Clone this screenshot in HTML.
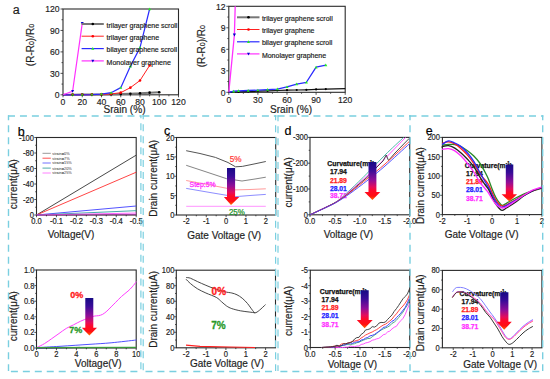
<!DOCTYPE html>
<html><head><meta charset="utf-8"><style>
html,body{margin:0;padding:0;background:#fff;}
#fig{position:relative;width:550px;height:379px;overflow:hidden;background:#fff;}
svg{display:block;}
svg text{font-family:"Liberation Sans", sans-serif;}
svg text.t{stroke:currentColor;}
</style></head><body><div id="fig">
<svg width="550" height="379" viewBox="0 0 550 379" font-family='"Liberation Sans", sans-serif'>
<text x="12.80" y="13.80" font-size="12.5" text-anchor="start" font-weight="normal" fill="#1e1e1e"  stroke="#1e1e1e" stroke-width="0.18">a</text>
<rect x="63.00" y="9.00" width="115.50" height="85.80" fill="none" stroke="#2a2a2a" stroke-width="1.1"/>
<path d="M63.00 94.80 L72.62 94.66 L82.25 94.59 L91.88 94.51 L101.50 94.44 L111.12 94.30 L120.75 94.08 L130.38 93.73 L140.00 93.37 L149.62 92.66 L159.25 92.30" fill="none" stroke="#777" stroke-width="2.0" stroke-linejoin="round" />
<path d="M63.00 94.80 L72.62 94.80 L82.25 94.80 L91.88 94.66 L101.50 94.44 L111.12 93.94 L120.75 92.66 L130.38 87.65 L140.00 80.50 L149.62 65.48" fill="none" stroke="#ff2020" stroke-width="1.0" stroke-linejoin="round" />
<path d="M63.00 94.80 L72.62 94.80 L82.25 94.80 L91.88 94.59 L101.50 94.08 L111.12 92.66 L120.75 87.65 L130.38 66.20 L140.00 47.61 L149.62 9.00" fill="none" stroke="#2a2aff" stroke-width="1.2" stroke-linejoin="round" />
<path d="M63.00 94.80 L72.62 91.22 L82.25 23.30" fill="none" stroke="#ff30ff" stroke-width="1.2" stroke-linejoin="round" />
<circle cx="72.62" cy="94.66" r="1.3" fill="#000"/>
<circle cx="82.25" cy="94.59" r="1.3" fill="#000"/>
<circle cx="91.88" cy="94.51" r="1.3" fill="#000"/>
<circle cx="101.50" cy="94.44" r="1.3" fill="#000"/>
<circle cx="111.12" cy="94.30" r="1.3" fill="#000"/>
<circle cx="120.75" cy="94.08" r="1.3" fill="#000"/>
<circle cx="130.38" cy="93.73" r="1.3" fill="#000"/>
<circle cx="140.00" cy="93.37" r="1.3" fill="#000"/>
<circle cx="149.62" cy="92.66" r="1.3" fill="#000"/>
<circle cx="159.25" cy="92.30" r="1.3" fill="#000"/>
<circle cx="72.62" cy="94.80" r="1.3" fill="#ff0000"/>
<circle cx="82.25" cy="94.80" r="1.3" fill="#ff0000"/>
<circle cx="91.88" cy="94.66" r="1.3" fill="#ff0000"/>
<circle cx="101.50" cy="94.44" r="1.3" fill="#ff0000"/>
<circle cx="111.12" cy="93.94" r="1.3" fill="#ff0000"/>
<circle cx="120.75" cy="92.66" r="1.3" fill="#ff0000"/>
<circle cx="130.38" cy="87.65" r="1.3" fill="#ff0000"/>
<circle cx="140.00" cy="80.50" r="1.3" fill="#ff0000"/>
<circle cx="149.62" cy="65.48" r="1.3" fill="#ff0000"/>
<path d="M72.62 93.30L74.12 96.00L71.12 96.00Z" fill="#22ee22"/>
<path d="M82.25 93.30L83.75 96.00L80.75 96.00Z" fill="#22ee22"/>
<path d="M91.88 93.09L93.38 95.79L90.38 95.79Z" fill="#22ee22"/>
<path d="M101.50 92.58L103.00 95.28L100.00 95.28Z" fill="#22ee22"/>
<path d="M111.12 91.16L112.62 93.86L109.62 93.86Z" fill="#22ee22"/>
<path d="M120.75 86.15L122.25 88.85L119.25 88.85Z" fill="#22ee22"/>
<path d="M130.38 64.70L131.88 67.40L128.88 67.40Z" fill="#22ee22"/>
<path d="M140.00 46.11L141.50 48.81L138.50 48.81Z" fill="#22ee22"/>
<path d="M149.62 7.50L151.12 10.20L148.12 10.20Z" fill="#22ee22"/>
<path d="M72.62 92.72L74.12 90.02L71.12 90.02Z" fill="#0000cc"/>
<path d="M82.25 24.80L83.75 22.10L80.75 22.10Z" fill="#0000cc"/>
<path d="M63.00 94.80v2.5M82.25 94.80v2.5M101.50 94.80v2.5M120.75 94.80v2.5M140.00 94.80v2.5M159.25 94.80v2.5M178.50 94.80v2.5" stroke="#2a2a2a" stroke-width="0.8"/>
<path d="M72.62 94.80v1.5M91.88 94.80v1.5M111.12 94.80v1.5M130.38 94.80v1.5M149.62 94.80v1.5M168.88 94.80v1.5" stroke="#2a2a2a" stroke-width="0.8"/>
<path d="M63.00 94.80h-2.5M63.00 73.35h-2.5M63.00 51.90h-2.5M63.00 30.45h-2.5M63.00 9.00h-2.5" stroke="#2a2a2a" stroke-width="0.8"/>
<path d="M63.00 84.08h-1.5M63.00 62.62h-1.5M63.00 41.17h-1.5M63.00 19.72h-1.5" stroke="#2a2a2a" stroke-width="0.8"/>
<text transform="translate(63.00,105.20) scale(0.9,1)" font-size="9.6" text-anchor="middle" fill="#1e1e1e" stroke="#1e1e1e" stroke-width="0.18">0</text>
<text transform="translate(82.25,105.20) scale(0.9,1)" font-size="9.6" text-anchor="middle" fill="#1e1e1e" stroke="#1e1e1e" stroke-width="0.18">20</text>
<text transform="translate(101.50,105.20) scale(0.9,1)" font-size="9.6" text-anchor="middle" fill="#1e1e1e" stroke="#1e1e1e" stroke-width="0.18">40</text>
<text transform="translate(120.75,105.20) scale(0.9,1)" font-size="9.6" text-anchor="middle" fill="#1e1e1e" stroke="#1e1e1e" stroke-width="0.18">60</text>
<text transform="translate(140.00,105.20) scale(0.9,1)" font-size="9.6" text-anchor="middle" fill="#1e1e1e" stroke="#1e1e1e" stroke-width="0.18">80</text>
<text transform="translate(159.25,105.20) scale(0.9,1)" font-size="9.6" text-anchor="middle" fill="#1e1e1e" stroke="#1e1e1e" stroke-width="0.18">100</text>
<text transform="translate(178.50,105.20) scale(0.9,1)" font-size="9.6" text-anchor="middle" fill="#1e1e1e" stroke="#1e1e1e" stroke-width="0.18">120</text>
<text transform="translate(59.60,98.26) scale(0.9,1)" font-size="9.6" text-anchor="end" fill="#1e1e1e" stroke="#1e1e1e" stroke-width="0.18">0</text>
<text transform="translate(59.60,76.81) scale(0.9,1)" font-size="9.6" text-anchor="end" fill="#1e1e1e" stroke="#1e1e1e" stroke-width="0.18">30</text>
<text transform="translate(59.60,55.36) scale(0.9,1)" font-size="9.6" text-anchor="end" fill="#1e1e1e" stroke="#1e1e1e" stroke-width="0.18">60</text>
<text transform="translate(59.60,33.91) scale(0.9,1)" font-size="9.6" text-anchor="end" fill="#1e1e1e" stroke="#1e1e1e" stroke-width="0.18">90</text>
<text transform="translate(59.60,12.46) scale(0.9,1)" font-size="9.6" text-anchor="end" fill="#1e1e1e" stroke="#1e1e1e" stroke-width="0.18">120</text>
<text x="124.50" y="112.60" font-size="10.1" text-anchor="middle" font-weight="normal" fill="#1e1e1e"  stroke="#1e1e1e" stroke-width="0.18">Srain (%)</text>
<text transform="translate(34.00,45.00) rotate(-90)" x="0" y="0" font-size="10" text-anchor="middle" font-weight="normal" fill="#1e1e1e"  stroke="#1e1e1e" stroke-width="0.18">(R-R<tspan font-size="7">0</tspan>)/R<tspan font-size="7">0</tspan></text>
<path d="M81.6 24.00H103.8" stroke="#777" stroke-width="2.0"/>
<circle cx="92.80" cy="24.00" r="1.3" fill="#000"/>
<text x="106.60" y="27.62" font-size="7.0" text-anchor="start" font-weight="normal" fill="#222"  stroke="#222" stroke-width="0.18">trilayer graphene scroll</text>
<path d="M81.6 36.20H103.8" stroke="#ff2020" stroke-width="1.0"/>
<circle cx="92.80" cy="36.20" r="1.3" fill="#ff0000"/>
<text x="106.60" y="39.82" font-size="7.0" text-anchor="start" font-weight="normal" fill="#222"  stroke="#222" stroke-width="0.18">trilayer graphene</text>
<path d="M81.6 48.60H103.8" stroke="#2a2aff" stroke-width="1.2"/>
<path d="M92.80 47.10L94.30 49.80L91.30 49.80Z" fill="#22ee22"/>
<text x="106.60" y="52.22" font-size="7.0" text-anchor="start" font-weight="normal" fill="#222"  stroke="#222" stroke-width="0.18">bilayer graphene scroll</text>
<path d="M81.6 60.90H103.8" stroke="#ff30ff" stroke-width="1.2"/>
<path d="M92.80 62.40L94.30 59.70L91.30 59.70Z" fill="#0000cc"/>
<text x="106.60" y="64.52" font-size="7.0" text-anchor="start" font-weight="normal" fill="#222"  stroke="#222" stroke-width="0.18">Monolayer graphene</text>
<rect x="228.80" y="6.30" width="116.40" height="86.00" fill="none" stroke="#2a2a2a" stroke-width="1.1"/>
<path d="M228.80 92.30 L238.50 91.94 L248.20 91.58 L257.90 91.22 L267.60 90.87 L277.30 90.51 L287.00 90.15 L296.70 90.01 L306.40 89.79 L316.10 89.43 L325.80 89.08 L345.20 88.72" fill="none" stroke="#111" stroke-width="1.2" stroke-linejoin="round" />
<path d="M228.80 92.30 L233.65 91.22 L238.50 90.87 L248.20 90.51 L257.90 90.15 L267.60 89.58 L277.30 89.08 L287.00 86.92 L296.70 84.06 L306.40 82.27 L316.10 67.22 L325.80 65.07" fill="none" stroke="#2a2aff" stroke-width="1.3" stroke-linejoin="round" />
<path d="M228.80 92.30 L234.40 34.80 L235.20 6.30" fill="none" stroke="#ff30ff" stroke-width="1.3" stroke-linejoin="round" />
<circle cx="238.50" cy="91.94" r="1.1" fill="#000"/>
<circle cx="248.20" cy="91.58" r="1.1" fill="#000"/>
<circle cx="257.90" cy="91.22" r="1.1" fill="#000"/>
<circle cx="267.60" cy="90.87" r="1.1" fill="#000"/>
<circle cx="277.30" cy="90.51" r="1.1" fill="#000"/>
<circle cx="287.00" cy="90.15" r="1.1" fill="#000"/>
<circle cx="296.70" cy="90.01" r="1.1" fill="#000"/>
<circle cx="306.40" cy="89.79" r="1.1" fill="#000"/>
<circle cx="316.10" cy="89.43" r="1.1" fill="#000"/>
<circle cx="325.80" cy="89.08" r="1.1" fill="#000"/>
<path d="M233.65 89.72L235.15 92.42L232.15 92.42Z" fill="#22ee22"/>
<path d="M238.50 89.37L240.00 92.07L237.00 92.07Z" fill="#22ee22"/>
<path d="M248.20 89.01L249.70 91.71L246.70 91.71Z" fill="#22ee22"/>
<path d="M257.90 88.65L259.40 91.35L256.40 91.35Z" fill="#22ee22"/>
<path d="M267.60 88.08L269.10 90.78L266.10 90.78Z" fill="#22ee22"/>
<path d="M277.30 87.58L278.80 90.28L275.80 90.28Z" fill="#22ee22"/>
<path d="M287.00 85.42L288.50 88.12L285.50 88.12Z" fill="#22ee22"/>
<path d="M296.70 82.56L298.20 85.26L295.20 85.26Z" fill="#22ee22"/>
<path d="M306.40 80.77L307.90 83.47L304.90 83.47Z" fill="#22ee22"/>
<path d="M316.10 65.72L317.60 68.42L314.60 68.42Z" fill="#22ee22"/>
<path d="M325.80 63.57L327.30 66.27L324.30 66.27Z" fill="#22ee22"/>
<path d="M234.40 36.40L236.00 33.52L232.80 33.52Z" fill="#0000cc"/>
<path d="M228.80 92.30v2.5M257.90 92.30v2.5M287.00 92.30v2.5M316.10 92.30v2.5M345.20 92.30v2.5" stroke="#2a2a2a" stroke-width="0.8"/>
<path d="M243.35 92.30v1.5M272.45 92.30v1.5M301.55 92.30v1.5M330.65 92.30v1.5" stroke="#2a2a2a" stroke-width="0.8"/>
<path d="M228.80 92.30h-2.5M228.80 70.80h-2.5M228.80 49.30h-2.5M228.80 27.80h-2.5M228.80 6.30h-2.5" stroke="#2a2a2a" stroke-width="0.8"/>
<path d="M228.80 81.55h-1.5M228.80 60.05h-1.5M228.80 38.55h-1.5M228.80 17.05h-1.5" stroke="#2a2a2a" stroke-width="0.8"/>
<text transform="translate(228.80,102.90) scale(0.9,1)" font-size="9.6" text-anchor="middle" fill="#1e1e1e" stroke="#1e1e1e" stroke-width="0.18">0</text>
<text transform="translate(257.90,102.90) scale(0.9,1)" font-size="9.6" text-anchor="middle" fill="#1e1e1e" stroke="#1e1e1e" stroke-width="0.18">30</text>
<text transform="translate(287.00,102.90) scale(0.9,1)" font-size="9.6" text-anchor="middle" fill="#1e1e1e" stroke="#1e1e1e" stroke-width="0.18">60</text>
<text transform="translate(316.10,102.90) scale(0.9,1)" font-size="9.6" text-anchor="middle" fill="#1e1e1e" stroke="#1e1e1e" stroke-width="0.18">90</text>
<text transform="translate(345.20,102.90) scale(0.9,1)" font-size="9.6" text-anchor="middle" fill="#1e1e1e" stroke="#1e1e1e" stroke-width="0.18">120</text>
<text transform="translate(225.60,95.76) scale(0.9,1)" font-size="9.6" text-anchor="end" fill="#1e1e1e" stroke="#1e1e1e" stroke-width="0.18">0</text>
<text transform="translate(225.60,74.26) scale(0.9,1)" font-size="9.6" text-anchor="end" fill="#1e1e1e" stroke="#1e1e1e" stroke-width="0.18">3</text>
<text transform="translate(225.60,52.76) scale(0.9,1)" font-size="9.6" text-anchor="end" fill="#1e1e1e" stroke="#1e1e1e" stroke-width="0.18">6</text>
<text transform="translate(225.60,31.26) scale(0.9,1)" font-size="9.6" text-anchor="end" fill="#1e1e1e" stroke="#1e1e1e" stroke-width="0.18">9</text>
<text transform="translate(225.60,9.76) scale(0.9,1)" font-size="9.6" text-anchor="end" fill="#1e1e1e" stroke="#1e1e1e" stroke-width="0.18">12</text>
<text x="291.00" y="112.60" font-size="10.1" text-anchor="middle" font-weight="normal" fill="#1e1e1e"  stroke="#1e1e1e" stroke-width="0.18">Srain (%)</text>
<text transform="translate(204.50,46.20) rotate(-90)" x="0" y="0" font-size="10" text-anchor="middle" font-weight="normal" fill="#1e1e1e"  stroke="#1e1e1e" stroke-width="0.18">(R-R<tspan font-size="7">0</tspan>)/R<tspan font-size="7">0</tspan></text>
<path d="M237 17.30H259.5" stroke="#777" stroke-width="2.0"/>
<circle cx="248.50" cy="17.30" r="1.3" fill="#000"/>
<text x="261.90" y="20.92" font-size="7.0" text-anchor="start" font-weight="normal" fill="#222"  stroke="#222" stroke-width="0.18">trilayer graphene scroll</text>
<path d="M237 29.50H259.5" stroke="#ff2020" stroke-width="1.0"/>
<circle cx="248.50" cy="29.50" r="1.3" fill="#ff0000"/>
<text x="261.90" y="33.12" font-size="7.0" text-anchor="start" font-weight="normal" fill="#222"  stroke="#222" stroke-width="0.18">trilayer graphene</text>
<path d="M237 41.80H259.5" stroke="#2a2aff" stroke-width="1.2"/>
<path d="M248.50 40.30L250.00 43.00L247.00 43.00Z" fill="#22ee22"/>
<text x="261.90" y="45.42" font-size="7.0" text-anchor="start" font-weight="normal" fill="#222"  stroke="#222" stroke-width="0.18">bilayer graphene scroll</text>
<path d="M237 53.90H259.5" stroke="#ff30ff" stroke-width="1.2"/>
<path d="M248.50 55.40L250.00 52.70L247.00 52.70Z" fill="#0000cc"/>
<text x="261.90" y="57.52" font-size="7.0" text-anchor="start" font-weight="normal" fill="#222"  stroke="#222" stroke-width="0.18">Monolayer graphene</text>
<text x="17.70" y="136.00" font-size="12.5" text-anchor="start" font-weight="normal" fill="#000"  stroke="#000" stroke-width="0.18">b</text>
<rect x="36.50" y="137.50" width="99.70" height="77.50" fill="none" stroke="#2a2a2a" stroke-width="1.1"/>
<path d="M36.50 215.00 L136.20 155.17" fill="none" stroke="#333" stroke-width="0.9" stroke-linejoin="round" />
<path d="M36.50 215.00 L136.20 172.22" fill="none" stroke="#ff3030" stroke-width="0.9" stroke-linejoin="round" />
<path d="M36.50 215.00 L136.20 206.01" fill="none" stroke="#4040ff" stroke-width="0.9" stroke-linejoin="round" />
<path d="M36.50 215.00 L136.20 210.66" fill="none" stroke="#30a0a0" stroke-width="0.9" stroke-linejoin="round" />
<path d="M36.50 215.00 L136.20 213.06" fill="none" stroke="#ff50ff" stroke-width="0.9" stroke-linejoin="round" />
<path d="M36.50 215.00 L136.20 214.61" fill="none" stroke="#993399" stroke-width="0.9" stroke-linejoin="round" />
<path d="M36.50 215.00v2.2M56.44 215.00v2.2M76.38 215.00v2.2M96.32 215.00v2.2M116.26 215.00v2.2M136.20 215.00v2.2" stroke="#2a2a2a" stroke-width="0.8"/>
<path d="M46.47 215.00v1.3M66.41 215.00v1.3M86.35 215.00v1.3M106.29 215.00v1.3M126.23 215.00v1.3" stroke="#2a2a2a" stroke-width="0.8"/>
<path d="M36.50 215.00h-2.2M36.50 199.50h-2.2M36.50 184.00h-2.2M36.50 168.50h-2.2M36.50 153.00h-2.2M36.50 137.50h-2.2" stroke="#2a2a2a" stroke-width="0.8"/>
<path d="M36.50 207.25h-1.3M36.50 191.75h-1.3M36.50 176.25h-1.3M36.50 160.75h-1.3M36.50 145.25h-1.3" stroke="#2a2a2a" stroke-width="0.8"/>
<text transform="translate(36.50,224.20) scale(0.9,1)" font-size="8.4" text-anchor="middle" fill="#1e1e1e" stroke="#1e1e1e" stroke-width="0.18">0.0</text>
<text transform="translate(56.44,224.20) scale(0.9,1)" font-size="8.4" text-anchor="middle" fill="#1e1e1e" stroke="#1e1e1e" stroke-width="0.18">-0.1</text>
<text transform="translate(76.38,224.20) scale(0.9,1)" font-size="8.4" text-anchor="middle" fill="#1e1e1e" stroke="#1e1e1e" stroke-width="0.18">-0.2</text>
<text transform="translate(96.32,224.20) scale(0.9,1)" font-size="8.4" text-anchor="middle" fill="#1e1e1e" stroke="#1e1e1e" stroke-width="0.18">-0.3</text>
<text transform="translate(116.26,224.20) scale(0.9,1)" font-size="8.4" text-anchor="middle" fill="#1e1e1e" stroke="#1e1e1e" stroke-width="0.18">-0.4</text>
<text transform="translate(136.20,224.20) scale(0.9,1)" font-size="8.4" text-anchor="middle" fill="#1e1e1e" stroke="#1e1e1e" stroke-width="0.18">-0.5</text>
<text transform="translate(34.00,218.02) scale(0.9,1)" font-size="8.4" text-anchor="end" fill="#1e1e1e" stroke="#1e1e1e" stroke-width="0.18">0</text>
<text transform="translate(34.00,202.52) scale(0.9,1)" font-size="8.4" text-anchor="end" fill="#1e1e1e" stroke="#1e1e1e" stroke-width="0.18">-20</text>
<text transform="translate(34.00,187.02) scale(0.9,1)" font-size="8.4" text-anchor="end" fill="#1e1e1e" stroke="#1e1e1e" stroke-width="0.18">-40</text>
<text transform="translate(34.00,171.52) scale(0.9,1)" font-size="8.4" text-anchor="end" fill="#1e1e1e" stroke="#1e1e1e" stroke-width="0.18">-60</text>
<text transform="translate(34.00,156.02) scale(0.9,1)" font-size="8.4" text-anchor="end" fill="#1e1e1e" stroke="#1e1e1e" stroke-width="0.18">-80</text>
<text transform="translate(34.00,140.52) scale(0.9,1)" font-size="8.4" text-anchor="end" fill="#1e1e1e" stroke="#1e1e1e" stroke-width="0.18">-100</text>
<text x="71.00" y="238.00" font-size="10.0" text-anchor="middle" font-weight="normal" fill="#1e1e1e"  stroke="#1e1e1e" stroke-width="0.18">Voltage(V)</text>
<text transform="translate(16.60,184.20) rotate(-90)" x="0" y="0" font-size="10.0" text-anchor="middle" font-weight="normal" fill="#1e1e1e"  stroke="#1e1e1e" stroke-width="0.18">current(μA)</text>
<path d="M42.5 153.3H50.8" stroke="#999" stroke-width="1"/>
<text x="52.20" y="154.70" font-size="3.9" text-anchor="start" font-weight="normal" fill="#555" stroke="#555" stroke-width="0.05">strain=0%</text>
<path d="M42.5 158.2H50.8" stroke="#ff5050" stroke-width="1"/>
<text x="52.20" y="159.60" font-size="3.9" text-anchor="start" font-weight="normal" fill="#555" stroke="#555" stroke-width="0.05">strain=7%</text>
<path d="M42.5 163H50.8" stroke="#7070ff" stroke-width="1"/>
<text x="52.20" y="164.40" font-size="3.9" text-anchor="start" font-weight="normal" fill="#555" stroke="#555" stroke-width="0.05">strain=15%</text>
<path d="M42.5 168.1H50.8" stroke="#50aaaa" stroke-width="1"/>
<text x="52.20" y="169.50" font-size="3.9" text-anchor="start" font-weight="normal" fill="#555" stroke="#555" stroke-width="0.05">strain=20%</text>
<path d="M42.5 173H50.8" stroke="#ff80ff" stroke-width="1"/>
<text x="52.20" y="174.40" font-size="3.9" text-anchor="start" font-weight="normal" fill="#555" stroke="#555" stroke-width="0.05">strain=25%</text>
<rect x="36.50" y="270.00" width="99.70" height="78.00" fill="none" stroke="#2a2a2a" stroke-width="1.1"/>
<path d="M36.80 347.60C38.08 346.93 42.00 345.10 44.50 343.60C47.00 342.10 49.38 340.28 51.80 338.60C54.22 336.92 56.58 335.20 59.00 333.50C61.42 331.80 63.87 329.85 66.30 328.40C68.73 326.95 71.18 326.02 73.60 324.80C76.02 323.58 78.38 322.20 80.80 321.10C83.22 320.00 85.87 319.03 88.10 318.20C90.33 317.37 92.48 316.52 94.20 316.10C95.92 315.68 96.98 316.00 98.40 315.70C99.82 315.40 101.28 315.07 102.70 314.30C104.12 313.53 105.50 312.33 106.90 311.10C108.30 309.87 109.70 308.30 111.10 306.90C112.50 305.50 113.55 304.45 115.30 302.70C117.05 300.95 119.48 298.33 121.60 296.40C123.72 294.47 126.23 292.68 128.00 291.10C129.77 289.52 130.80 288.48 132.20 286.90C133.60 285.32 135.70 282.48 136.40 281.60" fill="none" stroke="#ff40ff" stroke-width="1.0" stroke-linejoin="round" />
<path d="M36.80 347.60C40.67 347.38 51.13 346.85 60.00 346.30C68.87 345.75 81.48 344.88 90.00 344.30C98.52 343.72 103.37 343.52 111.10 342.80C118.83 342.08 132.18 340.47 136.40 340.00" fill="none" stroke="#5050ff" stroke-width="1.0" stroke-linejoin="round" />
<path d="M36.50 348.20 L50.00 348.00 L80.00 347.40" fill="none" stroke="#303090" stroke-width="1.0" stroke-linejoin="round" />
<path d="M36.50 347.60 L136.20 347.40" fill="none" stroke="#3a9a3a" stroke-width="1.2" stroke-linejoin="round" />
<path d="M36.50 348.00v2.2M56.44 348.00v2.2M76.38 348.00v2.2M96.32 348.00v2.2M116.26 348.00v2.2M136.20 348.00v2.2" stroke="#2a2a2a" stroke-width="0.8"/>
<path d="M46.47 348.00v1.3M66.41 348.00v1.3M86.35 348.00v1.3M106.29 348.00v1.3M126.23 348.00v1.3" stroke="#2a2a2a" stroke-width="0.8"/>
<path d="M36.50 348.00h-2.2M36.50 332.40h-2.2M36.50 316.80h-2.2M36.50 301.20h-2.2M36.50 285.60h-2.2M36.50 270.00h-2.2" stroke="#2a2a2a" stroke-width="0.8"/>
<path d="M36.50 340.20h-1.3M36.50 324.60h-1.3M36.50 309.00h-1.3M36.50 293.40h-1.3M36.50 277.80h-1.3" stroke="#2a2a2a" stroke-width="0.8"/>
<text transform="translate(36.50,356.50) scale(0.9,1)" font-size="8.4" text-anchor="middle" fill="#1e1e1e" stroke="#1e1e1e" stroke-width="0.18">0</text>
<text transform="translate(56.44,356.50) scale(0.9,1)" font-size="8.4" text-anchor="middle" fill="#1e1e1e" stroke="#1e1e1e" stroke-width="0.18">2</text>
<text transform="translate(76.38,356.50) scale(0.9,1)" font-size="8.4" text-anchor="middle" fill="#1e1e1e" stroke="#1e1e1e" stroke-width="0.18">4</text>
<text transform="translate(96.32,356.50) scale(0.9,1)" font-size="8.4" text-anchor="middle" fill="#1e1e1e" stroke="#1e1e1e" stroke-width="0.18">6</text>
<text transform="translate(116.26,356.50) scale(0.9,1)" font-size="8.4" text-anchor="middle" fill="#1e1e1e" stroke="#1e1e1e" stroke-width="0.18">8</text>
<text transform="translate(136.20,356.50) scale(0.9,1)" font-size="8.4" text-anchor="middle" fill="#1e1e1e" stroke="#1e1e1e" stroke-width="0.18">10</text>
<text transform="translate(34.40,351.02) scale(0.9,1)" font-size="8.4" text-anchor="end" fill="#1e1e1e" stroke="#1e1e1e" stroke-width="0.18">0.0</text>
<text transform="translate(34.40,335.42) scale(0.9,1)" font-size="8.4" text-anchor="end" fill="#1e1e1e" stroke="#1e1e1e" stroke-width="0.18">0.2</text>
<text transform="translate(34.40,319.82) scale(0.9,1)" font-size="8.4" text-anchor="end" fill="#1e1e1e" stroke="#1e1e1e" stroke-width="0.18">0.4</text>
<text transform="translate(34.40,304.22) scale(0.9,1)" font-size="8.4" text-anchor="end" fill="#1e1e1e" stroke="#1e1e1e" stroke-width="0.18">0.6</text>
<text transform="translate(34.40,288.62) scale(0.9,1)" font-size="8.4" text-anchor="end" fill="#1e1e1e" stroke="#1e1e1e" stroke-width="0.18">0.8</text>
<text transform="translate(34.40,273.02) scale(0.9,1)" font-size="8.4" text-anchor="end" fill="#1e1e1e" stroke="#1e1e1e" stroke-width="0.18">1.0</text>
<text x="98.20" y="366.50" font-size="10.0" text-anchor="middle" font-weight="normal" fill="#1e1e1e"  stroke="#1e1e1e" stroke-width="0.18">Voltage(V)</text>
<text transform="translate(16.60,316.20) rotate(-90)" x="0" y="0" font-size="10.0" text-anchor="middle" font-weight="normal" fill="#1e1e1e"  stroke="#1e1e1e" stroke-width="0.18">current(μA)</text>
<text x="70.20" y="298.40" font-size="9" text-anchor="start" font-weight="bold" fill="#ff2020" stroke="#ff2020" stroke-width="0.3">0%</text>
<text x="69.20" y="332.60" font-size="9" text-anchor="start" font-weight="bold" fill="#2a9a2a" stroke="#2a9a2a" stroke-width="0.3">7%</text>
<defs><linearGradient id="ag" x1="0" y1="0" x2="0" y2="1">
<stop offset="0" stop-color="#160a84"/><stop offset="0.22" stop-color="#380c98"/><stop offset="0.48" stop-color="#900e98"/><stop offset="0.66" stop-color="#e40c5c"/><stop offset="0.76" stop-color="#ff0828"/><stop offset="0.9" stop-color="#ff1010"/><stop offset="1" stop-color="#ff6800"/></linearGradient></defs>
<path d="M85.3 297.9H93.3V327.7H97.0L89.4 335.4L81.8 327.7H85.3Z" fill="url(#ag)"/>
<text x="164.00" y="134.50" font-size="12.5" text-anchor="start" font-weight="normal" fill="#000"  stroke="#000" stroke-width="0.18">c</text>
<rect x="176.50" y="137.50" width="99.20" height="77.50" fill="none" stroke="#2a2a2a" stroke-width="1.1"/>
<path d="M186.20 150.70 L200.00 153.50 L215.40 157.40 L228.00 162.50 L235.50 166.80 L242.30 166.40 L254.00 164.00 L265.80 161.50" fill="none" stroke="#555" stroke-width="1.0" stroke-linejoin="round" />
<path d="M186.20 165.30 L205.00 171.50 L226.60 178.70 L242.00 181.00 L255.00 179.00 L265.80 177.20" fill="none" stroke="#777" stroke-width="0.9" stroke-linejoin="round" />
<path d="M186.20 180.50 L210.00 185.00 L235.00 189.90 L250.00 189.50 L265.80 188.80" fill="none" stroke="#ff9090" stroke-width="0.9" stroke-linejoin="round" />
<path d="M186.20 188.40 L210.00 192.50 L235.00 196.70 L250.00 195.50 L265.80 194.40" fill="none" stroke="#8080ff" stroke-width="0.9" stroke-linejoin="round" />
<path d="M186.20 206.30 L265.80 206.30" fill="none" stroke="#ff88ff" stroke-width="0.9" stroke-linejoin="round" />
<path d="M186.42 215.00v2.2M206.26 215.00v2.2M226.10 215.00v2.2M245.94 215.00v2.2M265.78 215.00v2.2" stroke="#2a2a2a" stroke-width="0.8"/>
<path d="M196.34 215.00v1.3M216.18 215.00v1.3M236.02 215.00v1.3M255.86 215.00v1.3" stroke="#2a2a2a" stroke-width="0.8"/>
<path d="M176.50 215.00h-2.2M176.50 195.62h-2.2M176.50 176.25h-2.2M176.50 156.88h-2.2M176.50 137.50h-2.2" stroke="#2a2a2a" stroke-width="0.8"/>
<path d="M176.50 205.31h-1.3M176.50 185.94h-1.3M176.50 166.56h-1.3M176.50 147.19h-1.3" stroke="#2a2a2a" stroke-width="0.8"/>
<text transform="translate(186.42,223.80) scale(0.9,1)" font-size="8.4" text-anchor="middle" fill="#1e1e1e" stroke="#1e1e1e" stroke-width="0.18">-2</text>
<text transform="translate(206.26,223.80) scale(0.9,1)" font-size="8.4" text-anchor="middle" fill="#1e1e1e" stroke="#1e1e1e" stroke-width="0.18">-1</text>
<text transform="translate(226.10,223.80) scale(0.9,1)" font-size="8.4" text-anchor="middle" fill="#1e1e1e" stroke="#1e1e1e" stroke-width="0.18">0</text>
<text transform="translate(245.94,223.80) scale(0.9,1)" font-size="8.4" text-anchor="middle" fill="#1e1e1e" stroke="#1e1e1e" stroke-width="0.18">1</text>
<text transform="translate(265.78,223.80) scale(0.9,1)" font-size="8.4" text-anchor="middle" fill="#1e1e1e" stroke="#1e1e1e" stroke-width="0.18">2</text>
<text transform="translate(174.50,218.02) scale(0.9,1)" font-size="8.4" text-anchor="end" fill="#1e1e1e" stroke="#1e1e1e" stroke-width="0.18">0</text>
<text transform="translate(174.50,198.65) scale(0.9,1)" font-size="8.4" text-anchor="end" fill="#1e1e1e" stroke="#1e1e1e" stroke-width="0.18">5</text>
<text transform="translate(174.50,179.27) scale(0.9,1)" font-size="8.4" text-anchor="end" fill="#1e1e1e" stroke="#1e1e1e" stroke-width="0.18">10</text>
<text transform="translate(174.50,159.90) scale(0.9,1)" font-size="8.4" text-anchor="end" fill="#1e1e1e" stroke="#1e1e1e" stroke-width="0.18">15</text>
<text transform="translate(174.50,140.52) scale(0.9,1)" font-size="8.4" text-anchor="end" fill="#1e1e1e" stroke="#1e1e1e" stroke-width="0.18">20</text>
<text x="224.20" y="238.70" font-size="10.0" text-anchor="middle" font-weight="normal" fill="#1e1e1e"  stroke="#1e1e1e" stroke-width="0.18">Gate Voltage (V)</text>
<text transform="translate(156.70,178.30) rotate(-90)" x="0" y="0" font-size="10.0" text-anchor="middle" font-weight="normal" fill="#1e1e1e"  stroke="#1e1e1e" stroke-width="0.18">Drain current(μA)</text>
<text x="229.80" y="161.60" font-size="8.2" text-anchor="start" font-weight="normal" fill="#ff3838" stroke="#ff3838" stroke-width="0.2">5%</text>
<text transform="translate(189.60,186.80) scale(0.92,1)" font-size="7.5" text-anchor="start" font-weight="normal" fill="#ff30ff" stroke="#ff30ff" stroke-width="0.3">Step:5%</text>
<text transform="translate(228.90,215.00) scale(0.88,1)" font-size="9.0" text-anchor="start" font-weight="normal" fill="#22922a" stroke="#22922a" stroke-width="0.25">25%</text>
<path d="M227.0 168.0H235.1V197.1H239.3L231.0 205.0L223.9 197.1H227.0Z" fill="url(#ag)"/>
<rect x="176.30" y="270.20" width="99.20" height="77.60" fill="none" stroke="#2a2a2a" stroke-width="1.1"/>
<path d="M186.00 277.50C186.73 277.62 188.52 277.53 190.40 278.20C192.28 278.87 194.72 280.32 197.30 281.50C199.88 282.68 203.03 284.10 205.90 285.30C208.77 286.50 211.33 287.62 214.50 288.70C217.67 289.78 222.02 291.08 224.90 291.80C227.78 292.52 229.78 292.50 231.80 293.00C233.82 293.50 235.27 293.93 237.00 294.80C238.73 295.67 240.47 296.77 242.20 298.20C243.93 299.63 245.68 301.38 247.40 303.40C249.12 305.42 251.22 308.73 252.50 310.30C253.78 311.87 253.95 312.80 255.10 312.80C256.25 312.80 257.67 311.67 259.40 310.30C261.13 308.93 264.48 305.55 265.50 304.60" fill="none" stroke="#333" stroke-width="0.9" stroke-linejoin="round" />
<path d="M186.00 279.20C186.73 279.92 188.52 281.92 190.40 283.50C192.28 285.08 194.72 287.12 197.30 288.70C199.88 290.28 202.73 291.55 205.90 293.00C209.07 294.45 213.70 295.95 216.30 297.40C218.90 298.85 219.78 300.27 221.50 301.70C223.22 303.13 224.88 304.85 226.60 306.00C228.32 307.15 229.50 307.80 231.80 308.60C234.10 309.40 237.52 310.23 240.40 310.80C243.28 311.37 246.65 311.67 249.10 312.00C251.55 312.33 254.10 312.67 255.10 312.80" fill="none" stroke="#333" stroke-width="0.9" stroke-linejoin="round" />
<path d="M186.00 345.20 L200.00 346.30 L230.00 347.00 L255.00 347.50" fill="none" stroke="#ff2020" stroke-width="1.2" stroke-linejoin="round" />
<path d="M186.22 347.80v2.2M206.06 347.80v2.2M225.90 347.80v2.2M245.74 347.80v2.2M265.58 347.80v2.2" stroke="#2a2a2a" stroke-width="0.8"/>
<path d="M196.14 347.80v1.3M215.98 347.80v1.3M235.82 347.80v1.3M255.66 347.80v1.3" stroke="#2a2a2a" stroke-width="0.8"/>
<path d="M176.30 347.80h-2.2M176.30 332.28h-2.2M176.30 316.76h-2.2M176.30 301.24h-2.2M176.30 285.72h-2.2M176.30 270.20h-2.2" stroke="#2a2a2a" stroke-width="0.8"/>
<path d="M176.30 340.04h-1.3M176.30 324.52h-1.3M176.30 309.00h-1.3M176.30 293.48h-1.3M176.30 277.96h-1.3" stroke="#2a2a2a" stroke-width="0.8"/>
<text transform="translate(186.22,356.50) scale(0.9,1)" font-size="8.4" text-anchor="middle" fill="#1e1e1e" stroke="#1e1e1e" stroke-width="0.18">-2</text>
<text transform="translate(206.06,356.50) scale(0.9,1)" font-size="8.4" text-anchor="middle" fill="#1e1e1e" stroke="#1e1e1e" stroke-width="0.18">-1</text>
<text transform="translate(225.90,356.50) scale(0.9,1)" font-size="8.4" text-anchor="middle" fill="#1e1e1e" stroke="#1e1e1e" stroke-width="0.18">0</text>
<text transform="translate(245.74,356.50) scale(0.9,1)" font-size="8.4" text-anchor="middle" fill="#1e1e1e" stroke="#1e1e1e" stroke-width="0.18">1</text>
<text transform="translate(265.58,356.50) scale(0.9,1)" font-size="8.4" text-anchor="middle" fill="#1e1e1e" stroke="#1e1e1e" stroke-width="0.18">2</text>
<text transform="translate(174.40,350.82) scale(0.9,1)" font-size="8.4" text-anchor="end" fill="#1e1e1e" stroke="#1e1e1e" stroke-width="0.18">0</text>
<text transform="translate(174.40,335.30) scale(0.9,1)" font-size="8.4" text-anchor="end" fill="#1e1e1e" stroke="#1e1e1e" stroke-width="0.18">20</text>
<text transform="translate(174.40,319.78) scale(0.9,1)" font-size="8.4" text-anchor="end" fill="#1e1e1e" stroke="#1e1e1e" stroke-width="0.18">40</text>
<text transform="translate(174.40,304.26) scale(0.9,1)" font-size="8.4" text-anchor="end" fill="#1e1e1e" stroke="#1e1e1e" stroke-width="0.18">60</text>
<text transform="translate(174.40,288.74) scale(0.9,1)" font-size="8.4" text-anchor="end" fill="#1e1e1e" stroke="#1e1e1e" stroke-width="0.18">80</text>
<text transform="translate(174.40,273.22) scale(0.9,1)" font-size="8.4" text-anchor="end" fill="#1e1e1e" stroke="#1e1e1e" stroke-width="0.18">100</text>
<text x="227.00" y="367.40" font-size="10.0" text-anchor="middle" font-weight="normal" fill="#1e1e1e"  stroke="#1e1e1e" stroke-width="0.18">Gate Voltage (V)</text>
<text transform="translate(156.50,309.40) rotate(-90)" x="0" y="0" font-size="10.0" text-anchor="middle" font-weight="normal" fill="#1e1e1e"  stroke="#1e1e1e" stroke-width="0.18">Drain current(μA)</text>
<text x="211.60" y="295.20" font-size="10" text-anchor="start" font-weight="bold" fill="#ff2020" stroke="#ff2020" stroke-width="0.3">0%</text>
<text x="211.20" y="329.40" font-size="10" text-anchor="start" font-weight="bold" fill="#2a9a2a" stroke="#2a9a2a" stroke-width="0.3">7%</text>
<text x="284.40" y="135.20" font-size="12.5" text-anchor="start" font-weight="normal" fill="#000"  stroke="#000" stroke-width="0.18">d</text>
<rect x="310.00" y="137.40" width="99.70" height="77.40" fill="none" stroke="#2a2a2a" stroke-width="1.1"/>
<text x="327.30" y="166.00" font-size="6.9" text-anchor="start" font-weight="bold" fill="#111" stroke="#111" stroke-width="0.25">Curvature(m<tspan font-size="4.5" dy="-2.5">-1</tspan><tspan dy="2.5">)</tspan></text>
<text x="329.90" y="174.10" font-size="6.8" text-anchor="start" font-weight="bold" fill="#111" stroke="#111" stroke-width="0.25">17.94</text>
<text x="329.90" y="182.70" font-size="6.8" text-anchor="start" font-weight="bold" fill="#ff2020" stroke="#ff2020" stroke-width="0.25">21.89</text>
<text x="329.90" y="190.60" font-size="6.8" text-anchor="start" font-weight="bold" fill="#2020ff" stroke="#2020ff" stroke-width="0.25">28.01</text>
<text x="329.90" y="197.90" font-size="6.8" text-anchor="start" font-weight="bold" fill="#ff30ff" stroke="#ff30ff" stroke-width="0.25">38.71</text>
<path d="M310.00 214.80C312.50 213.60 320.55 209.82 325.00 207.60C329.45 205.38 332.53 204.43 336.70 201.50C340.87 198.57 344.78 194.83 350.00 190.00C355.22 185.17 362.17 178.33 368.00 172.50C373.83 166.67 379.05 160.85 385.00 155.00C390.95 149.15 400.58 140.33 403.70 137.40" fill="none" stroke="#40b0a0" stroke-width="0.9" stroke-linejoin="round" />
<path d="M310.00 214.80C312.50 213.60 320.55 209.80 325.00 207.60C329.45 205.40 332.53 204.37 336.70 201.60C340.87 198.83 344.78 195.43 350.00 191.00C355.22 186.57 362.17 180.42 368.00 175.00C373.83 169.58 378.73 164.77 385.00 158.50C391.27 152.23 402.17 140.92 405.60 137.40" fill="none" stroke="#ff40ff" stroke-width="0.9" stroke-linejoin="round" />
<path d="M310.00 214.80 L325.00 207.80 L336.70 201.80 L344.00 196.80 L350.00 192.00 L358.00 185.00 L368.00 176.50 L377.00 167.00 L383.00 161.00 L386.20 155.00 L388.50 160.50 L395.00 153.00 L409.30 138.30" fill="none" stroke="#333" stroke-width="0.9" stroke-linejoin="round" />
<path d="M310.00 214.80C312.50 213.65 320.55 210.03 325.00 207.90C329.45 205.77 332.53 204.57 336.70 202.00C340.87 199.43 344.78 196.50 350.00 192.50C355.22 188.50 362.17 182.75 368.00 178.00C373.83 173.25 378.12 170.08 385.00 164.00C391.88 157.92 405.25 145.25 409.30 141.50" fill="none" stroke="#ff3030" stroke-width="0.9" stroke-linejoin="round" />
<path d="M310.00 214.80C312.50 213.67 320.55 210.10 325.00 208.00C329.45 205.90 332.53 204.62 336.70 202.20C340.87 199.78 344.78 197.20 350.00 193.50C355.22 189.80 362.17 184.58 368.00 180.00C373.83 175.42 378.12 172.02 385.00 166.00C391.88 159.98 405.25 147.58 409.30 143.90" fill="none" stroke="#4040ff" stroke-width="0.9" stroke-linejoin="round" />
<path d="M310.00 214.80v2.2M334.93 214.80v2.2M359.85 214.80v2.2M384.77 214.80v2.2M409.70 214.80v2.2" stroke="#2a2a2a" stroke-width="0.8"/>
<path d="M322.46 214.80v1.3M347.39 214.80v1.3M372.31 214.80v1.3M397.24 214.80v1.3" stroke="#2a2a2a" stroke-width="0.8"/>
<path d="M310.00 214.80h-2.2M310.00 189.00h-2.2M310.00 163.20h-2.2M310.00 137.40h-2.2" stroke="#2a2a2a" stroke-width="0.8"/>
<path d="M310.00 201.90h-1.3M310.00 176.10h-1.3M310.00 150.30h-1.3" stroke="#2a2a2a" stroke-width="0.8"/>
<text transform="translate(310.00,224.20) scale(0.9,1)" font-size="8.4" text-anchor="middle" fill="#1e1e1e" stroke="#1e1e1e" stroke-width="0.18">0.0</text>
<text transform="translate(334.93,224.20) scale(0.9,1)" font-size="8.4" text-anchor="middle" fill="#1e1e1e" stroke="#1e1e1e" stroke-width="0.18">-0.5</text>
<text transform="translate(359.85,224.20) scale(0.9,1)" font-size="8.4" text-anchor="middle" fill="#1e1e1e" stroke="#1e1e1e" stroke-width="0.18">-1.0</text>
<text transform="translate(384.77,224.20) scale(0.9,1)" font-size="8.4" text-anchor="middle" fill="#1e1e1e" stroke="#1e1e1e" stroke-width="0.18">-1.5</text>
<text transform="translate(409.70,224.20) scale(0.9,1)" font-size="8.4" text-anchor="middle" fill="#1e1e1e" stroke="#1e1e1e" stroke-width="0.18">-2.0</text>
<text transform="translate(308.00,217.82) scale(0.9,1)" font-size="8.4" text-anchor="end" fill="#1e1e1e" stroke="#1e1e1e" stroke-width="0.18">0</text>
<text transform="translate(308.00,192.02) scale(0.9,1)" font-size="8.4" text-anchor="end" fill="#1e1e1e" stroke="#1e1e1e" stroke-width="0.18">-100</text>
<text transform="translate(308.00,166.22) scale(0.9,1)" font-size="8.4" text-anchor="end" fill="#1e1e1e" stroke="#1e1e1e" stroke-width="0.18">-200</text>
<text transform="translate(308.00,140.42) scale(0.9,1)" font-size="8.4" text-anchor="end" fill="#1e1e1e" stroke="#1e1e1e" stroke-width="0.18">-300</text>
<text x="348.40" y="238.20" font-size="10.0" text-anchor="middle" font-weight="normal" fill="#1e1e1e"  stroke="#1e1e1e" stroke-width="0.18">Voltage (V)</text>
<text transform="translate(292.00,182.40) rotate(-90)" x="0" y="0" font-size="10.0" text-anchor="middle" font-weight="normal" fill="#1e1e1e"  stroke="#1e1e1e" stroke-width="0.18">current(μA)</text>
<path d="M368.5 161.9H376.4V192.0H380.3L372.4 199.9L364.5 192.0H368.5Z" fill="url(#ag)"/>
<rect x="310.30" y="270.20" width="99.40" height="77.30" fill="none" stroke="#2a2a2a" stroke-width="1.1"/>
<text x="319.70" y="294.20" font-size="6.9" text-anchor="start" font-weight="bold" fill="#111" stroke="#111" stroke-width="0.25">Curvature(m<tspan font-size="4.5" dy="-2.5">-1</tspan><tspan dy="2.5">)</tspan></text>
<text x="321.60" y="302.10" font-size="6.8" text-anchor="start" font-weight="bold" fill="#111" stroke="#111" stroke-width="0.25">17.94</text>
<text x="321.60" y="310.40" font-size="6.8" text-anchor="start" font-weight="bold" fill="#ff2020" stroke="#ff2020" stroke-width="0.25">21.89</text>
<text x="321.60" y="318.30" font-size="6.8" text-anchor="start" font-weight="bold" fill="#2020ff" stroke="#2020ff" stroke-width="0.25">28.01</text>
<text x="321.60" y="326.60" font-size="6.8" text-anchor="start" font-weight="bold" fill="#ff30ff" stroke="#ff30ff" stroke-width="0.25">38.71</text>
<path d="M321.60 347.50 L323.80 347.46 L326.00 347.43 L328.20 347.39 L330.40 347.36 L332.60 347.32 L334.80 347.28 L337.00 347.40 L339.20 347.50 L341.40 347.47 L343.60 347.50 L345.80 347.15 L348.00 347.24 L350.20 346.04 L352.40 346.41 L354.60 346.69 L356.80 346.05 L359.00 346.06 L361.20 344.43 L363.40 344.03 L365.60 342.94 L367.80 342.47 L370.00 341.69 L372.20 340.25 L374.40 339.72 L376.60 338.88 L378.80 338.33 L381.00 336.83 L383.20 334.77 L385.40 334.14 L387.60 331.96 L389.80 331.08 L392.00 328.94 L394.20 327.25 L396.40 326.33 L398.60 323.10 L400.80 320.66 L403.00 318.37 L405.20 314.49 L407.40 308.93 L409.60 303.55 L409.60 303.00" fill="none" stroke="#ff40ff" stroke-width="0.9" stroke-linejoin="round" />
<path d="M321.60 347.50 L323.80 347.34 L326.00 347.19 L328.20 347.03 L330.40 346.88 L332.60 346.72 L334.80 346.57 L337.00 346.15 L339.20 345.86 L341.40 345.83 L343.60 345.17 L345.80 344.67 L348.00 344.59 L350.20 344.69 L352.40 344.15 L354.60 343.70 L356.80 342.74 L359.00 342.24 L361.20 341.14 L363.40 340.19 L365.60 339.29 L367.80 338.55 L370.00 338.43 L372.20 336.79 L374.40 335.22 L376.60 333.68 L378.80 331.53 L381.00 330.10 L383.20 328.98 L385.40 328.00 L387.60 327.04 L389.80 325.78 L392.00 323.34 L394.20 322.21 L396.40 320.24 L398.60 317.60 L400.80 314.79 L403.00 312.08 L405.20 308.33 L407.40 305.12 L409.60 300.17 L409.60 299.80" fill="none" stroke="#40a080" stroke-width="0.9" stroke-linejoin="round" />
<path d="M321.60 347.50 L323.80 347.42 L326.00 347.34 L328.20 347.26 L330.40 347.15 L332.60 346.89 L334.80 346.62 L337.00 346.05 L339.20 346.15 L341.40 345.49 L343.60 345.22 L345.80 344.70 L348.00 343.48 L350.20 342.88 L352.40 343.45 L354.60 342.34 L356.80 341.90 L359.00 341.76 L361.20 340.05 L363.40 339.50 L365.60 338.13 L367.80 337.40 L370.00 335.88 L372.20 335.34 L374.40 334.51 L376.60 332.90 L378.80 331.51 L381.00 329.78 L383.20 327.47 L385.40 326.94 L387.60 325.38 L389.80 323.46 L392.00 321.21 L394.20 320.29 L396.40 317.64 L398.60 315.46 L400.80 313.17 L403.00 310.21 L405.20 307.51 L407.40 302.77 L409.60 297.76 L409.60 297.40" fill="none" stroke="#3030ff" stroke-width="0.9" stroke-linejoin="round" />
<path d="M321.60 347.50 L323.80 347.37 L326.00 347.24 L328.20 347.11 L330.40 346.92 L332.60 346.48 L334.80 346.04 L337.00 346.15 L339.20 345.70 L341.40 344.08 L343.60 343.49 L345.80 343.78 L348.00 343.04 L350.20 342.35 L352.40 341.32 L354.60 341.08 L356.80 340.49 L359.00 339.86 L361.20 337.98 L363.40 336.65 L365.60 335.02 L367.80 333.99 L370.00 332.89 L372.20 332.00 L374.40 330.68 L376.60 329.65 L378.80 328.10 L381.00 326.48 L383.20 325.12 L385.40 324.24 L387.60 322.67 L389.80 320.97 L392.00 319.14 L394.20 316.26 L396.40 313.83 L398.60 310.93 L400.80 308.16 L403.00 305.97 L405.20 303.17 L407.40 299.65 L409.60 294.60 L409.60 294.00" fill="none" stroke="#ff3030" stroke-width="0.9" stroke-linejoin="round" />
<path d="M321.60 347.50 L323.80 347.37 L326.00 347.24 L328.20 347.11 L330.40 346.94 L332.60 346.61 L334.80 346.28 L337.00 345.15 L339.20 346.38 L341.40 345.66 L343.60 343.88 L345.80 343.75 L348.00 342.99 L350.20 342.72 L352.40 341.76 L354.60 338.98 L356.80 337.58 L359.00 337.33 L361.20 334.35 L363.40 332.97 L365.60 329.91 L367.80 329.53 L370.00 328.79 L372.20 326.62 L374.40 327.11 L376.60 325.97 L378.80 323.23 L381.00 322.39 L383.20 322.57 L385.40 322.05 L387.60 319.43 L389.80 317.19 L392.00 314.93 L394.20 311.35 L396.40 308.65 L398.60 305.53 L400.80 302.06 L403.00 298.71 L405.20 296.51 L407.40 293.95 L409.60 288.61 L409.60 288.70" fill="none" stroke="#333" stroke-width="0.9" stroke-linejoin="round" />
<path d="M310.30 347.50v2.2M335.15 347.50v2.2M360.00 347.50v2.2M384.85 347.50v2.2M409.70 347.50v2.2" stroke="#2a2a2a" stroke-width="0.8"/>
<path d="M322.73 347.50v1.3M347.57 347.50v1.3M372.43 347.50v1.3M397.27 347.50v1.3" stroke="#2a2a2a" stroke-width="0.8"/>
<path d="M310.30 347.50h-2.2M310.30 332.04h-2.2M310.30 316.58h-2.2M310.30 301.12h-2.2M310.30 285.66h-2.2M310.30 270.20h-2.2" stroke="#2a2a2a" stroke-width="0.8"/>
<path d="M310.30 339.77h-1.3M310.30 324.31h-1.3M310.30 308.85h-1.3M310.30 293.39h-1.3M310.30 277.93h-1.3" stroke="#2a2a2a" stroke-width="0.8"/>
<text transform="translate(310.30,356.50) scale(0.9,1)" font-size="8.4" text-anchor="middle" fill="#1e1e1e" stroke="#1e1e1e" stroke-width="0.18">0.0</text>
<text transform="translate(335.15,356.50) scale(0.9,1)" font-size="8.4" text-anchor="middle" fill="#1e1e1e" stroke="#1e1e1e" stroke-width="0.18">-0.5</text>
<text transform="translate(360.00,356.50) scale(0.9,1)" font-size="8.4" text-anchor="middle" fill="#1e1e1e" stroke="#1e1e1e" stroke-width="0.18">-1.0</text>
<text transform="translate(384.85,356.50) scale(0.9,1)" font-size="8.4" text-anchor="middle" fill="#1e1e1e" stroke="#1e1e1e" stroke-width="0.18">-1.5</text>
<text transform="translate(409.70,356.50) scale(0.9,1)" font-size="8.4" text-anchor="middle" fill="#1e1e1e" stroke="#1e1e1e" stroke-width="0.18">-2.0</text>
<text transform="translate(308.00,350.52) scale(0.9,1)" font-size="8.4" text-anchor="end" fill="#1e1e1e" stroke="#1e1e1e" stroke-width="0.18">0</text>
<text transform="translate(308.00,335.06) scale(0.9,1)" font-size="8.4" text-anchor="end" fill="#1e1e1e" stroke="#1e1e1e" stroke-width="0.18">-1</text>
<text transform="translate(308.00,319.60) scale(0.9,1)" font-size="8.4" text-anchor="end" fill="#1e1e1e" stroke="#1e1e1e" stroke-width="0.18">-2</text>
<text transform="translate(308.00,304.14) scale(0.9,1)" font-size="8.4" text-anchor="end" fill="#1e1e1e" stroke="#1e1e1e" stroke-width="0.18">-3</text>
<text transform="translate(308.00,288.68) scale(0.9,1)" font-size="8.4" text-anchor="end" fill="#1e1e1e" stroke="#1e1e1e" stroke-width="0.18">-4</text>
<text transform="translate(308.00,273.22) scale(0.9,1)" font-size="8.4" text-anchor="end" fill="#1e1e1e" stroke="#1e1e1e" stroke-width="0.18">-5</text>
<text x="352.40" y="367.80" font-size="10.0" text-anchor="middle" font-weight="normal" fill="#1e1e1e"  stroke="#1e1e1e" stroke-width="0.18">Voltage (V)</text>
<text transform="translate(292.00,311.00) rotate(-90)" x="0" y="0" font-size="10.0" text-anchor="middle" font-weight="normal" fill="#1e1e1e"  stroke="#1e1e1e" stroke-width="0.18">current(μA)</text>
<path d="M360.8 290.2H368.7V319.9H372.7L364.6 328.2L356.8 319.9H360.8Z" fill="url(#ag)"/>
<text x="425.80" y="135.00" font-size="12.5" text-anchor="start" font-weight="normal" fill="#000"  stroke="#000" stroke-width="0.18">e</text>
<rect x="442.40" y="137.40" width="99.50" height="77.20" fill="none" stroke="#2a2a2a" stroke-width="1.1"/>
<text x="464.70" y="167.90" font-size="6.9" text-anchor="start" font-weight="bold" fill="#111" stroke="#111" stroke-width="0.25">Curvature(m<tspan font-size="4.5" dy="-2.5">-1</tspan><tspan dy="2.5">)</tspan></text>
<text x="465.90" y="176.40" font-size="6.8" text-anchor="start" font-weight="bold" fill="#111" stroke="#111" stroke-width="0.25">17.94</text>
<text x="465.90" y="184.20" font-size="6.8" text-anchor="start" font-weight="bold" fill="#ff2020" stroke="#ff2020" stroke-width="0.25">21.89</text>
<text x="465.90" y="191.80" font-size="6.8" text-anchor="start" font-weight="bold" fill="#2020ff" stroke="#2020ff" stroke-width="0.25">28.01</text>
<text x="465.90" y="200.80" font-size="6.8" text-anchor="start" font-weight="bold" fill="#ff30ff" stroke="#ff30ff" stroke-width="0.25">38.71</text>
<path d="M442.10 145.10C443.17 145.00 446.38 144.60 448.50 144.50C450.62 144.40 452.70 144.15 454.80 144.50C456.90 144.85 458.98 145.55 461.10 146.60C463.22 147.65 465.38 149.22 467.50 150.80C469.62 152.38 471.70 153.98 473.80 156.10C475.90 158.22 478.15 160.68 480.10 163.50C482.05 166.32 484.08 170.33 485.50 173.00C486.92 175.67 487.50 176.83 488.60 179.50C489.70 182.17 490.92 186.03 492.10 189.00C493.28 191.97 494.50 195.02 495.70 197.30C496.90 199.58 498.22 201.35 499.30 202.70C500.38 204.05 501.02 205.30 502.20 205.40C503.38 205.50 504.32 204.45 506.40 203.30C508.48 202.15 511.73 200.08 514.70 198.50C517.67 196.92 521.23 195.08 524.20 193.80C527.17 192.52 529.63 191.70 532.50 190.80C535.37 189.90 539.92 188.80 541.40 188.40" fill="none" stroke="#2a8a2a" stroke-width="1.35" stroke-linejoin="round" />
<path d="M442.10 143.50C443.17 143.22 446.38 141.73 448.50 141.80C450.62 141.87 452.70 142.75 454.80 143.90C456.90 145.05 458.98 146.83 461.10 148.70C463.22 150.57 465.38 152.63 467.50 155.10C469.62 157.57 471.70 160.33 473.80 163.50C475.90 166.67 478.23 171.35 480.10 174.10C481.97 176.85 483.58 178.22 485.00 180.00C486.42 181.78 487.42 182.70 488.60 184.80C489.78 186.90 490.92 190.12 492.10 192.60C493.28 195.08 494.50 197.72 495.70 199.70C496.90 201.68 498.22 203.42 499.30 204.50C500.38 205.58 501.02 206.12 502.20 206.20C503.38 206.28 504.32 205.98 506.40 205.00C508.48 204.02 511.73 201.97 514.70 200.30C517.67 198.63 521.23 196.58 524.20 195.00C527.17 193.42 529.63 192.00 532.50 190.80C535.37 189.60 539.92 188.30 541.40 187.80" fill="none" stroke="#ff2020" stroke-width="1.35" stroke-linejoin="round" />
<path d="M442.10 144.50C443.17 143.90 446.38 141.15 448.50 140.90C450.62 140.65 452.70 142.05 454.80 143.00C456.90 143.95 458.98 144.93 461.10 146.60C463.22 148.27 465.38 150.53 467.50 153.00C469.62 155.47 471.70 158.07 473.80 161.40C475.90 164.73 478.23 169.65 480.10 173.00C481.97 176.35 483.58 179.08 485.00 181.50C486.42 183.92 487.42 185.25 488.60 187.50C489.78 189.75 490.92 192.67 492.10 195.00C493.28 197.33 494.50 199.63 495.70 201.50C496.90 203.37 498.22 205.22 499.30 206.20C500.38 207.18 501.02 207.50 502.20 207.40C503.38 207.30 504.32 206.68 506.40 205.60C508.48 204.52 511.73 202.58 514.70 200.90C517.67 199.22 521.23 197.18 524.20 195.50C527.17 193.82 529.63 192.08 532.50 190.80C535.37 189.52 539.92 188.30 541.40 187.80" fill="none" stroke="#2a2aff" stroke-width="1.35" stroke-linejoin="round" />
<path d="M442.10 146.60C443.17 146.43 446.38 145.35 448.50 145.60C450.62 145.85 452.70 146.87 454.80 148.10C456.90 149.33 458.98 151.13 461.10 153.00C463.22 154.87 465.38 157.02 467.50 159.30C469.62 161.58 471.70 163.70 473.80 166.70C475.90 169.70 478.23 174.33 480.10 177.30C481.97 180.27 483.58 182.47 485.00 184.50C486.42 186.53 487.42 187.37 488.60 189.50C489.78 191.63 490.92 194.88 492.10 197.30C493.28 199.72 494.50 202.15 495.70 204.00C496.90 205.85 498.22 207.33 499.30 208.40C500.38 209.47 501.02 210.47 502.20 210.40C503.38 210.33 504.32 209.28 506.40 208.00C508.48 206.72 511.73 204.78 514.70 202.70C517.67 200.62 521.23 197.48 524.20 195.50C527.17 193.52 529.63 192.08 532.50 190.80C535.37 189.52 539.92 188.30 541.40 187.80" fill="none" stroke="#222" stroke-width="1.35" stroke-linejoin="round" />
<path d="M442.10 149.40C443.17 149.28 446.38 148.47 448.50 148.70C450.62 148.93 452.70 149.57 454.80 150.80C456.90 152.03 458.98 153.98 461.10 156.10C463.22 158.22 465.38 160.85 467.50 163.50C469.62 166.15 471.70 168.83 473.80 172.00C475.90 175.17 478.23 179.75 480.10 182.50C481.97 185.25 483.58 186.75 485.00 188.50C486.42 190.25 487.42 191.25 488.60 193.00C489.78 194.75 490.92 197.17 492.10 199.00C493.28 200.83 494.50 202.68 495.70 204.00C496.90 205.32 498.22 206.23 499.30 206.90C500.38 207.57 501.02 208.02 502.20 208.00C503.38 207.98 504.32 207.88 506.40 206.80C508.48 205.72 511.73 203.47 514.70 201.50C517.67 199.53 521.23 196.88 524.20 195.00C527.17 193.12 529.63 191.50 532.50 190.20C535.37 188.90 539.92 187.70 541.40 187.20" fill="none" stroke="#ff30ff" stroke-width="1.35" stroke-linejoin="round" />
<path d="M442.40 214.60v2.2M467.27 214.60v2.2M492.15 214.60v2.2M517.02 214.60v2.2M541.90 214.60v2.2" stroke="#2a2a2a" stroke-width="0.8"/>
<path d="M454.84 214.60v1.3M479.71 214.60v1.3M504.59 214.60v1.3M529.46 214.60v1.3" stroke="#2a2a2a" stroke-width="0.8"/>
<path d="M442.40 214.60h-2.2M442.40 195.30h-2.2M442.40 176.00h-2.2M442.40 156.70h-2.2M442.40 137.40h-2.2" stroke="#2a2a2a" stroke-width="0.8"/>
<path d="M442.40 204.95h-1.3M442.40 185.65h-1.3M442.40 166.35h-1.3M442.40 147.05h-1.3" stroke="#2a2a2a" stroke-width="0.8"/>
<text transform="translate(442.40,224.20) scale(0.9,1)" font-size="8.4" text-anchor="middle" fill="#1e1e1e" stroke="#1e1e1e" stroke-width="0.18">-2</text>
<text transform="translate(467.27,224.20) scale(0.9,1)" font-size="8.4" text-anchor="middle" fill="#1e1e1e" stroke="#1e1e1e" stroke-width="0.18">-1</text>
<text transform="translate(492.15,224.20) scale(0.9,1)" font-size="8.4" text-anchor="middle" fill="#1e1e1e" stroke="#1e1e1e" stroke-width="0.18">0</text>
<text transform="translate(517.02,224.20) scale(0.9,1)" font-size="8.4" text-anchor="middle" fill="#1e1e1e" stroke="#1e1e1e" stroke-width="0.18">1</text>
<text transform="translate(541.90,224.20) scale(0.9,1)" font-size="8.4" text-anchor="middle" fill="#1e1e1e" stroke="#1e1e1e" stroke-width="0.18">2</text>
<text transform="translate(440.00,217.62) scale(0.9,1)" font-size="8.4" text-anchor="end" fill="#1e1e1e" stroke="#1e1e1e" stroke-width="0.18">0</text>
<text transform="translate(440.00,198.32) scale(0.9,1)" font-size="8.4" text-anchor="end" fill="#1e1e1e" stroke="#1e1e1e" stroke-width="0.18">50</text>
<text transform="translate(440.00,179.02) scale(0.9,1)" font-size="8.4" text-anchor="end" fill="#1e1e1e" stroke="#1e1e1e" stroke-width="0.18">100</text>
<text transform="translate(440.00,159.72) scale(0.9,1)" font-size="8.4" text-anchor="end" fill="#1e1e1e" stroke="#1e1e1e" stroke-width="0.18">150</text>
<text transform="translate(440.00,140.42) scale(0.9,1)" font-size="8.4" text-anchor="end" fill="#1e1e1e" stroke="#1e1e1e" stroke-width="0.18">200</text>
<text x="481.60" y="238.30" font-size="10.0" text-anchor="middle" font-weight="normal" fill="#1e1e1e"  stroke="#1e1e1e" stroke-width="0.18">Gate Voltage (V)</text>
<text transform="translate(424.00,185.50) rotate(-90)" x="0" y="0" font-size="10.0" text-anchor="middle" font-weight="normal" fill="#1e1e1e"  stroke="#1e1e1e" stroke-width="0.18">Drain current(μA)</text>
<path d="M505.8 164.4H513.3V194.3H517.1L509.4 201.5L501.6 194.3H505.8Z" fill="url(#ag)"/>
<rect x="442.40" y="270.40" width="99.50" height="77.40" fill="none" stroke="#2a2a2a" stroke-width="1.1"/>
<text x="459.50" y="295.80" font-size="6.9" text-anchor="start" font-weight="bold" fill="#111" stroke="#111" stroke-width="0.25">Curvature(m<tspan font-size="4.5" dy="-2.5">-1</tspan><tspan dy="2.5">)</tspan></text>
<text x="461.40" y="303.80" font-size="6.8" text-anchor="start" font-weight="bold" fill="#111" stroke="#111" stroke-width="0.25">17.94</text>
<text x="461.40" y="311.70" font-size="6.8" text-anchor="start" font-weight="bold" fill="#ff2020" stroke="#ff2020" stroke-width="0.25">21.89</text>
<text x="461.40" y="320.20" font-size="6.8" text-anchor="start" font-weight="bold" fill="#2020ff" stroke="#2020ff" stroke-width="0.25">28.01</text>
<text x="461.40" y="328.90" font-size="6.8" text-anchor="start" font-weight="bold" fill="#ff30ff" stroke="#ff30ff" stroke-width="0.25">38.71</text>
<path d="M452.40 292.00C452.87 291.38 454.28 289.07 455.20 288.30C456.12 287.53 456.52 287.48 457.90 287.40C459.28 287.32 461.65 287.33 463.50 287.80C465.35 288.27 467.17 289.20 469.00 290.20C470.83 291.20 472.65 292.42 474.50 293.80C476.35 295.18 478.25 296.50 480.10 298.50C481.95 300.50 483.95 303.55 485.60 305.80C487.25 308.05 488.60 310.10 490.00 312.00C491.40 313.90 492.68 315.35 494.00 317.20C495.32 319.05 496.58 320.92 497.90 323.10C499.22 325.28 500.68 328.22 501.90 330.30C503.12 332.38 504.10 334.17 505.20 335.60C506.30 337.03 507.40 338.57 508.50 338.90C509.60 339.23 510.48 338.58 511.80 337.60C513.12 336.62 514.53 334.87 516.40 333.00C518.27 331.13 521.02 328.17 523.00 326.40C524.98 324.63 526.65 323.55 528.30 322.40C529.95 321.25 532.13 319.98 532.90 319.50" fill="none" stroke="#8080ff" stroke-width="1.0" stroke-linejoin="round" />
<path d="M452.40 297.50C452.87 296.88 454.28 294.72 455.20 293.80C456.12 292.88 456.52 292.20 457.90 292.00C459.28 291.80 461.65 292.13 463.50 292.60C465.35 293.07 467.17 293.82 469.00 294.80C470.83 295.78 472.65 297.12 474.50 298.50C476.35 299.88 478.25 301.10 480.10 303.10C481.95 305.10 483.95 308.43 485.60 310.50C487.25 312.57 488.60 314.07 490.00 315.50C491.40 316.93 492.68 317.50 494.00 319.10C495.32 320.70 496.58 323.00 497.90 325.10C499.22 327.20 500.68 329.73 501.90 331.70C503.12 333.67 504.10 335.63 505.20 336.90C506.30 338.17 507.40 339.07 508.50 339.30C509.60 339.53 510.48 339.18 511.80 338.30C513.12 337.42 514.53 335.77 516.40 334.00C518.27 332.23 521.02 329.42 523.00 327.70C524.98 325.98 526.65 324.80 528.30 323.70C529.95 322.60 532.13 321.53 532.90 321.10" fill="none" stroke="#ff6060" stroke-width="1.0" stroke-linejoin="round" />
<path d="M452.40 296.80C452.87 296.20 454.28 294.08 455.20 293.20C456.12 292.32 456.52 291.67 457.90 291.50C459.28 291.33 461.65 291.70 463.50 292.20C465.35 292.70 467.17 293.50 469.00 294.50C470.83 295.50 472.65 296.82 474.50 298.20C476.35 299.58 478.25 300.83 480.10 302.80C481.95 304.77 483.95 307.97 485.60 310.00C487.25 312.03 488.60 313.57 490.00 315.00C491.40 316.43 492.68 317.00 494.00 318.60C495.32 320.20 496.58 322.50 497.90 324.60C499.22 326.70 500.68 329.22 501.90 331.20C503.12 333.18 504.10 335.22 505.20 336.50C506.30 337.78 507.40 338.67 508.50 338.90C509.60 339.13 510.48 338.80 511.80 337.90C513.12 337.00 514.53 335.32 516.40 333.50C518.27 331.68 521.02 328.75 523.00 327.00C524.98 325.25 526.65 324.12 528.30 323.00C529.95 321.88 532.13 320.75 532.90 320.30" fill="none" stroke="#ff60ff" stroke-width="0.8" stroke-linejoin="round" />
<path d="M452.40 297.50C452.87 296.88 454.28 294.72 455.20 293.80C456.12 292.88 456.52 292.20 457.90 292.00C459.28 291.80 461.65 292.02 463.50 292.60C465.35 293.18 467.17 294.35 469.00 295.50C470.83 296.65 472.65 298.00 474.50 299.50C476.35 301.00 478.25 302.37 480.10 304.50C481.95 306.63 483.95 310.18 485.60 312.30C487.25 314.42 488.60 315.40 490.00 317.20C491.40 319.00 492.68 321.13 494.00 323.10C495.32 325.07 496.58 326.80 497.90 329.00C499.22 331.20 500.68 334.32 501.90 336.30C503.12 338.28 504.10 339.58 505.20 340.90C506.30 342.22 507.40 343.77 508.50 344.20C509.60 344.63 510.48 344.27 511.80 343.50C513.12 342.73 514.53 341.35 516.40 339.60C518.27 337.85 521.02 334.77 523.00 333.00C524.98 331.23 526.65 330.10 528.30 329.00C529.95 327.90 532.13 326.83 532.90 326.40" fill="none" stroke="#333" stroke-width="1.0" stroke-linejoin="round" />
<path d="M453.24 347.80v2.2M472.94 347.80v2.2M492.64 347.80v2.2M512.35 347.80v2.2M532.05 347.80v2.2" stroke="#2a2a2a" stroke-width="0.8"/>
<path d="M463.09 347.80v1.3M482.79 347.80v1.3M502.49 347.80v1.3M522.20 347.80v1.3" stroke="#2a2a2a" stroke-width="0.8"/>
<path d="M442.40 347.80h-2.2M442.40 328.45h-2.2M442.40 309.10h-2.2M442.40 289.75h-2.2M442.40 270.40h-2.2" stroke="#2a2a2a" stroke-width="0.8"/>
<path d="M442.40 338.12h-1.3M442.40 318.77h-1.3M442.40 299.43h-1.3M442.40 280.07h-1.3" stroke="#2a2a2a" stroke-width="0.8"/>
<text transform="translate(453.24,356.50) scale(0.9,1)" font-size="8.4" text-anchor="middle" fill="#1e1e1e" stroke="#1e1e1e" stroke-width="0.18">-2</text>
<text transform="translate(472.94,356.50) scale(0.9,1)" font-size="8.4" text-anchor="middle" fill="#1e1e1e" stroke="#1e1e1e" stroke-width="0.18">-1</text>
<text transform="translate(492.64,356.50) scale(0.9,1)" font-size="8.4" text-anchor="middle" fill="#1e1e1e" stroke="#1e1e1e" stroke-width="0.18">0</text>
<text transform="translate(512.35,356.50) scale(0.9,1)" font-size="8.4" text-anchor="middle" fill="#1e1e1e" stroke="#1e1e1e" stroke-width="0.18">1</text>
<text transform="translate(532.05,356.50) scale(0.9,1)" font-size="8.4" text-anchor="middle" fill="#1e1e1e" stroke="#1e1e1e" stroke-width="0.18">2</text>
<text transform="translate(439.80,350.82) scale(0.9,1)" font-size="8.4" text-anchor="end" fill="#1e1e1e" stroke="#1e1e1e" stroke-width="0.18">0</text>
<text transform="translate(439.80,331.47) scale(0.9,1)" font-size="8.4" text-anchor="end" fill="#1e1e1e" stroke="#1e1e1e" stroke-width="0.18">20</text>
<text transform="translate(439.80,312.12) scale(0.9,1)" font-size="8.4" text-anchor="end" fill="#1e1e1e" stroke="#1e1e1e" stroke-width="0.18">40</text>
<text transform="translate(439.80,292.77) scale(0.9,1)" font-size="8.4" text-anchor="end" fill="#1e1e1e" stroke="#1e1e1e" stroke-width="0.18">60</text>
<text transform="translate(439.80,273.42) scale(0.9,1)" font-size="8.4" text-anchor="end" fill="#1e1e1e" stroke="#1e1e1e" stroke-width="0.18">80</text>
<text x="500.10" y="367.50" font-size="10.0" text-anchor="middle" font-weight="normal" fill="#1e1e1e"  stroke="#1e1e1e" stroke-width="0.18">Gate Voltage (V)</text>
<text transform="translate(424.00,312.80) rotate(-90)" x="0" y="0" font-size="10.0" text-anchor="middle" font-weight="normal" fill="#1e1e1e"  stroke="#1e1e1e" stroke-width="0.18">Drain current(μA)</text>
<path d="M500.2 292.3H508.4V321.8H511.8L504.2 329.7L496.6 321.8H500.2Z" fill="url(#ag)"/>
<path d="M8 116H141.5" stroke="#7acfe0" stroke-width="1.5" stroke-dasharray="7 4.95"/>
<path d="M142.4 116H276.5" stroke="#7acfe0" stroke-width="1.5" stroke-dasharray="7 4.95"/>
<path d="M277.6 116H410.5" stroke="#7acfe0" stroke-width="1.5" stroke-dasharray="7 4.95"/>
<path d="M409.5 116H543.3" stroke="#7acfe0" stroke-width="1.5" stroke-dasharray="7 4.95"/>
<path d="M10.9 371.4H141" stroke="#7acfe0" stroke-width="1.5" stroke-dasharray="7 4.95"/>
<path d="M145.5 371.4H276" stroke="#7acfe0" stroke-width="1.5" stroke-dasharray="7 4.95"/>
<path d="M280.4 371.4H410" stroke="#7acfe0" stroke-width="1.5" stroke-dasharray="7 4.95"/>
<path d="M412.8 371.4H543" stroke="#7acfe0" stroke-width="1.5" stroke-dasharray="7 4.95"/>
<path d="M8.5 115.3V371" stroke="#7acfe0" stroke-width="1.4" stroke-dasharray="7 4.95" stroke-dashoffset="2"/>
<path d="M140.9 115.3V371" stroke="#7acfe0" stroke-width="1.2" stroke-dasharray="7 4.95" stroke-dashoffset="4"/>
<path d="M143.2 115.3V371" stroke="#7acfe0" stroke-width="1.2" stroke-dasharray="7 4.95" stroke-dashoffset="3"/>
<path d="M275.6 115.3V371" stroke="#7acfe0" stroke-width="1.2" stroke-dasharray="7 4.95" stroke-dashoffset="2"/>
<path d="M278.0 115.3V371" stroke="#7acfe0" stroke-width="1.2" stroke-dasharray="7 4.95" stroke-dashoffset="1"/>
<path d="M410.0 115.3V371" stroke="#7acfe0" stroke-width="1.4" stroke-dasharray="7 4.95" stroke-dashoffset="2"/>
<path d="M542.7 115.3V371" stroke="#7acfe0" stroke-width="1.4" stroke-dasharray="7 4.95" stroke-dashoffset="2"/>
</svg></div></body></html>
